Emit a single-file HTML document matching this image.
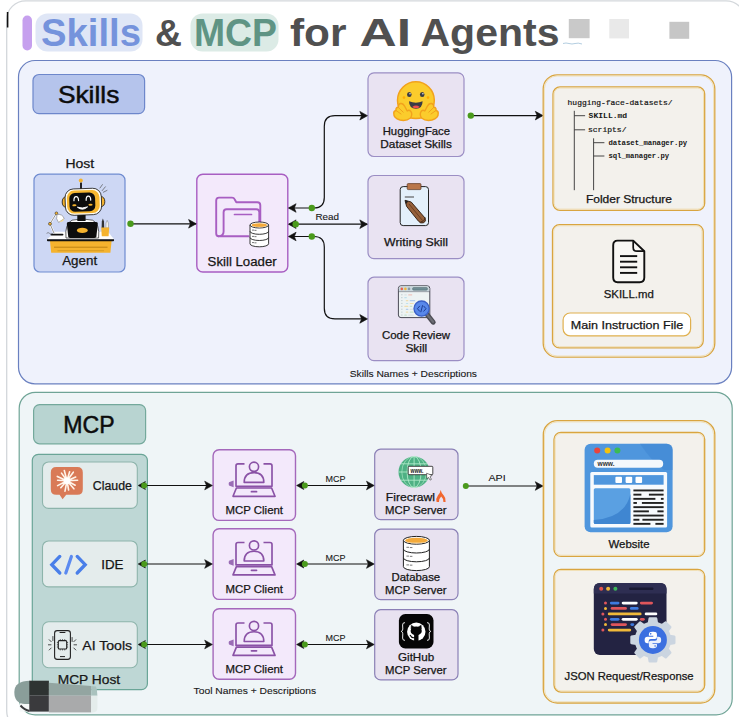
<!DOCTYPE html>
<html lang="en"><head><meta charset="utf-8"><title>Skills &amp; MCP for AI Agents</title>
<style>
html,body{margin:0;padding:0;background:#ffffff;}
body{width:739px;height:717px;overflow:hidden;position:relative;}
svg{position:absolute;left:0;top:0;display:block;}
text{font-family:"Liberation Sans",sans-serif;}
text.mono{font-family:"Liberation Mono",monospace;}
</style></head><body>
<svg width="739" height="717" viewBox="0 0 739 717">
<rect x="0" y="0" width="739" height="717" fill="#ffffff"/>
<rect x="6.7" y="0.8" width="738.3" height="729.2" rx="19" fill="#ffffff" stroke="#d3d7db" stroke-width="1.3" />
<line x1="7.6" y1="12.0" x2="7.6" y2="27.5" stroke="#111" stroke-width="1.6"/>
<rect x="22.5" y="15.5" width="9.5" height="35.0" rx="4.7" fill="#c6a0ee" stroke="none" stroke-width="0" />
<rect x="35.5" y="13.5" width="107.0" height="38.0" rx="12" fill="#dfe6f6" stroke="none" stroke-width="0" />
<rect x="190.5" y="13.5" width="88.0" height="38.0" rx="12" fill="#dcebe6" stroke="none" stroke-width="0" />
<text x="41.0" y="45.9" font-size="39" font-weight="bold" fill="#7593dc" textLength="100.0" lengthAdjust="spacingAndGlyphs">Skills</text>
<text x="155.0" y="45.9" font-size="37" font-weight="bold" fill="#505050" textLength="27.0" lengthAdjust="spacingAndGlyphs">&amp;</text>
<text x="194.0" y="45.9" font-size="39" font-weight="bold" fill="#5f9484" textLength="83.0" lengthAdjust="spacingAndGlyphs">MCP</text>
<text x="290.0" y="45.9" font-size="39" font-weight="bold" fill="#505050" textLength="56.5" lengthAdjust="spacingAndGlyphs">for</text>
<text x="359.5" y="45.9" font-size="39" font-weight="bold" fill="#505050" textLength="51.5" lengthAdjust="spacingAndGlyphs">AI</text>
<text x="420.5" y="45.9" font-size="39" font-weight="bold" fill="#505050" textLength="139.0" lengthAdjust="spacingAndGlyphs">Agents</text>
<rect x="568.8" y="19.0" width="20.8" height="19.2" rx="0" fill="#c9c9c9" stroke="none" stroke-width="0" />
<rect x="609.3" y="19.0" width="19.7" height="19.4" rx="0" fill="#e9e9e9" stroke="none" stroke-width="0" />
<rect x="669.4" y="21.8" width="19.8" height="17.0" rx="0" fill="#c6c6c6" stroke="none" stroke-width="0" />
<path d="M563 43.5 q3 -1 6 0 t6 0 t7 .5" fill="none" stroke="#9fc0d8" stroke-width="0.8"/>
<rect x="18.5" y="60.5" width="713.1" height="323.3" rx="16.5" fill="#eff2fc" stroke="#6a80c0" stroke-width="1.2" />
<rect x="33.0" y="74.5" width="111.6" height="39.1" rx="6" fill="#b5c4ec" stroke="#6d87cb" stroke-width="1.2" />
<text x="57.9" y="103.0" font-size="24.5" font-weight="normal" fill="#0c0c0c" stroke="#0c0c0c" stroke-width="0.5" textLength="61.4" lengthAdjust="spacingAndGlyphs">Skills</text>
<text x="65.4" y="167.5" font-size="13" font-weight="normal" fill="#161616" stroke="#161616" stroke-width="0.25" textLength="28.8" lengthAdjust="spacingAndGlyphs">Host</text>
<rect x="34.0" y="174.2" width="91.0" height="97.8" rx="6" fill="#cdd7f4" stroke="#6e8bd0" stroke-width="1.2" />
<text x="62.2" y="265.4" font-size="12" font-weight="normal" fill="#161616" stroke="#161616" stroke-width="0.25" textLength="34.9" lengthAdjust="spacingAndGlyphs">Agent</text>
<rect x="196.8" y="174.2" width="91.0" height="97.8" rx="6" fill="#f3e9fb" stroke="#a85ec2" stroke-width="1.4" />
<text x="207.6" y="265.5" font-size="12" font-weight="normal" fill="#161616" stroke="#161616" stroke-width="0.25" textLength="69.1" lengthAdjust="spacingAndGlyphs">Skill Loader</text>
<rect x="368.0" y="72.8" width="96.0" height="83.7" rx="6" fill="#e9e3f2" stroke="#9b8ec4" stroke-width="1.2" />
<rect x="368.0" y="175.5" width="96.0" height="83.1" rx="6" fill="#e9e3f2" stroke="#9b8ec4" stroke-width="1.2" />
<rect x="368.0" y="277.2" width="96.0" height="83.4" rx="6" fill="#e9e3f2" stroke="#9b8ec4" stroke-width="1.2" />
<text x="382.7" y="134.6" font-size="10.7" font-weight="normal" fill="#161616" stroke="#161616" stroke-width="0.25" textLength="67.4" lengthAdjust="spacingAndGlyphs">HuggingFace</text>
<text x="380.3" y="147.6" font-size="10.7" font-weight="normal" fill="#161616" stroke="#161616" stroke-width="0.25" textLength="71.5" lengthAdjust="spacingAndGlyphs">Dataset Skills</text>
<text x="384.1" y="246.2" font-size="10.7" font-weight="normal" fill="#161616" stroke="#161616" stroke-width="0.25" textLength="63.9" lengthAdjust="spacingAndGlyphs">Writing Skill</text>
<text x="382.0" y="339.2" font-size="10.7" font-weight="normal" fill="#161616" stroke="#161616" stroke-width="0.25" textLength="68.0" lengthAdjust="spacingAndGlyphs">Code Review</text>
<text x="405.4" y="352.0" font-size="10.7" font-weight="normal" fill="#161616" stroke="#161616" stroke-width="0.25" textLength="21.9" lengthAdjust="spacingAndGlyphs">Skill</text>
<text x="349.7" y="376.8" font-size="9.8" font-weight="normal" fill="#161616" stroke="#161616" stroke-width="0.1" textLength="127.3" lengthAdjust="spacingAndGlyphs">Skills Names + Descriptions</text>
<text x="315.4" y="219.7" font-size="9.8" font-weight="normal" fill="#161616" stroke="#161616" stroke-width="0.1" textLength="23.6" lengthAdjust="spacingAndGlyphs">Read</text>
<line x1="130.0" y1="223.8" x2="196.0" y2="223.8" stroke="#111" stroke-width="1.2"/>
<circle cx="130.5" cy="223.8" r="3.2" fill="#4a9a1c"/>
<polygon points="196.3,223.8 188.6,219.5 190.4,223.8 188.6,228.1" fill="#111" stroke="#111" stroke-width="0.6" stroke-linejoin="round"/>
<path d="M289 208 H314 Q324.3 208 324.3 197.5 V126.2 Q324.3 115.7 335 115.7 H366" fill="none" stroke="#111" stroke-width="1.2"/>
<polygon points="288.4,208.0 296.1,203.7 294.3,208.0 296.1,212.3" fill="#111" stroke="#111" stroke-width="0.6" stroke-linejoin="round"/>
<polygon points="367.5,115.7 359.8,111.4 361.6,115.7 359.8,120.0" fill="#111" stroke="#111" stroke-width="0.6" stroke-linejoin="round"/>
<circle cx="311.8" cy="208.0" r="3.2" fill="#4a9a1c"/>
<line x1="289.0" y1="224.2" x2="367.0" y2="224.2" stroke="#111" stroke-width="1.2"/>
<polygon points="288.4,224.2 296.1,219.9 294.3,224.2 296.1,228.5" fill="#111" stroke="#111" stroke-width="0.6" stroke-linejoin="round"/>
<polygon points="367.5,224.2 359.8,219.9 361.6,224.2 359.8,228.5" fill="#111" stroke="#111" stroke-width="0.6" stroke-linejoin="round"/>
<circle cx="295.7" cy="224.2" r="3.2" fill="#4a9a1c"/>
<path d="M289 236.5 H314 Q324.3 236.5 324.3 247 V308.2 Q324.3 318.9 335 318.9 H366" fill="none" stroke="#111" stroke-width="1.2"/>
<polygon points="288.4,236.5 296.1,232.2 294.3,236.5 296.1,240.8" fill="#111" stroke="#111" stroke-width="0.6" stroke-linejoin="round"/>
<polygon points="367.5,318.9 359.8,314.6 361.6,318.9 359.8,323.2" fill="#111" stroke="#111" stroke-width="0.6" stroke-linejoin="round"/>
<circle cx="311.8" cy="236.5" r="3.2" fill="#4a9a1c"/>
<line x1="470.0" y1="115.6" x2="542.0" y2="115.6" stroke="#111" stroke-width="1.2"/>
<circle cx="470.8" cy="115.6" r="3.2" fill="#4a9a1c"/>
<polygon points="543.0,115.6 535.3,111.3 537.1,115.6 535.3,119.9" fill="#111" stroke="#111" stroke-width="0.6" stroke-linejoin="round"/>
<rect x="543.2" y="74.8" width="171.6" height="282.4" rx="14" fill="none" stroke="#d9a540" stroke-width="1.3" />
<rect x="553.0" y="86.9" width="151.7" height="123.4" rx="7" fill="#f3f1ec" stroke="#d9a540" stroke-width="1.3" />
<rect x="552.5" y="224.6" width="150.7" height="123.3" rx="7" fill="#f3f1ec" stroke="#d9a540" stroke-width="1.3" />
<text x="567.6" y="104.8" font-size="7.7" font-weight="normal" fill="#151515" stroke="#151515" stroke-width="0.2" textLength="104.9" lengthAdjust="spacingAndGlyphs" class="mono">hugging-face-datasets/</text>
<text x="588.6" y="118.2" font-size="7.7" font-weight="bold" fill="#151515" textLength="38.6" lengthAdjust="spacingAndGlyphs" class="mono">SKILL.md</text>
<text x="588.0" y="132.3" font-size="7.7" font-weight="normal" fill="#151515" stroke="#151515" stroke-width="0.2" textLength="38.5" lengthAdjust="spacingAndGlyphs" class="mono">scripts/</text>
<text x="608.4" y="145.0" font-size="7.2" font-weight="bold" fill="#151515" textLength="78.8" lengthAdjust="spacingAndGlyphs" class="mono">dataset_manager.py</text>
<text x="608.4" y="158.3" font-size="7.2" font-weight="bold" fill="#151515" textLength="60.8" lengthAdjust="spacingAndGlyphs" class="mono">sql_manager.py</text>
<line x1="574.3" y1="110.8" x2="574.3" y2="190.2" stroke="#333" stroke-width="0.9"/>
<line x1="574.3" y1="115.7" x2="585.1" y2="115.7" stroke="#333" stroke-width="0.9"/>
<line x1="574.3" y1="129.8" x2="585.1" y2="129.8" stroke="#333" stroke-width="0.9"/>
<line x1="593.6" y1="138.3" x2="593.6" y2="190.2" stroke="#333" stroke-width="0.9"/>
<line x1="593.6" y1="142.7" x2="604.4" y2="142.7" stroke="#333" stroke-width="0.9"/>
<line x1="593.6" y1="156.0" x2="604.4" y2="156.0" stroke="#333" stroke-width="0.9"/>
<text x="585.9" y="202.9" font-size="10.7" font-weight="normal" fill="#161616" stroke="#161616" stroke-width="0.25" textLength="86.1" lengthAdjust="spacingAndGlyphs">Folder Structure</text>
<text x="603.7" y="297.8" font-size="10.8" font-weight="normal" fill="#161616" stroke="#161616" stroke-width="0.25" textLength="50.1" lengthAdjust="spacingAndGlyphs">SKILL.md</text>
<rect x="563.1" y="313.0" width="127.5" height="22.8" rx="7" fill="#ffffff" stroke="#e0b04e" stroke-width="1.2" />
<text x="570.8" y="329.1" font-size="11.4" font-weight="normal" fill="#161616" stroke="#161616" stroke-width="0.25" textLength="112.5" lengthAdjust="spacingAndGlyphs">Main Instruction File</text>
<rect x="19.2" y="392.3" width="713.0" height="322.5" rx="16" fill="#eff5f7" stroke="#6fa496" stroke-width="1.2" />
<rect x="33.6" y="404.6" width="112.0" height="39.2" rx="6" fill="#b8d4d1" stroke="#74a99c" stroke-width="1.2" />
<text x="63.3" y="432.8" font-size="24.5" font-weight="normal" fill="#0c0c0c" stroke="#0c0c0c" stroke-width="0.5" textLength="51.3" lengthAdjust="spacingAndGlyphs">MCP</text>
<rect x="32.3" y="454.3" width="115.1" height="235.4" rx="6" fill="#bed7d5" stroke="#6aa597" stroke-width="1.2" />
<rect x="42.5" y="462.0" width="94.8" height="46.4" rx="6" fill="#e4ecec" stroke="#8db4ab" stroke-width="1.1" />
<rect x="42.5" y="541.0" width="94.8" height="45.9" rx="6" fill="#e4ecec" stroke="#8db4ab" stroke-width="1.1" />
<rect x="42.5" y="621.8" width="94.8" height="45.9" rx="6" fill="#e4ecec" stroke="#8db4ab" stroke-width="1.1" />
<text x="92.8" y="490.3" font-size="12" font-weight="normal" fill="#161616" stroke="#161616" stroke-width="0.25" textLength="39.2" lengthAdjust="spacingAndGlyphs">Claude</text>
<text x="101.3" y="569.1" font-size="12" font-weight="normal" fill="#161616" stroke="#161616" stroke-width="0.25" textLength="22.2" lengthAdjust="spacingAndGlyphs">IDE</text>
<text x="82.3" y="650.0" font-size="12" font-weight="normal" fill="#161616" stroke="#161616" stroke-width="0.25" textLength="49.8" lengthAdjust="spacingAndGlyphs">AI Tools</text>
<text x="57.7" y="683.9" font-size="12.5" font-weight="normal" fill="#161616" stroke="#161616" stroke-width="0.25" textLength="62.4" lengthAdjust="spacingAndGlyphs">MCP Host</text>
<rect x="213.1" y="449.7" width="82.4" height="70.7" rx="6" fill="#f3e9fb" stroke="#a468bb" stroke-width="1.4" />
<text x="225.5" y="513.5" font-size="10.8" font-weight="normal" fill="#161616" stroke="#161616" stroke-width="0.25" textLength="57.5" lengthAdjust="spacingAndGlyphs">MCP Client</text>
<rect x="213.1" y="528.7" width="82.4" height="70.7" rx="6" fill="#f3e9fb" stroke="#a468bb" stroke-width="1.4" />
<text x="225.5" y="592.5" font-size="10.8" font-weight="normal" fill="#161616" stroke="#161616" stroke-width="0.25" textLength="57.5" lengthAdjust="spacingAndGlyphs">MCP Client</text>
<rect x="213.1" y="608.8" width="82.4" height="70.4" rx="6" fill="#f3e9fb" stroke="#a468bb" stroke-width="1.4" />
<text x="225.5" y="672.6" font-size="10.8" font-weight="normal" fill="#161616" stroke="#161616" stroke-width="0.25" textLength="57.5" lengthAdjust="spacingAndGlyphs">MCP Client</text>
<rect x="374.7" y="449.2" width="83.3" height="70.4" rx="6" fill="#e8e2f0" stroke="#8b80b6" stroke-width="1.2" />
<text x="385.1" y="513.9" font-size="10.7" font-weight="normal" fill="#161616" stroke="#161616" stroke-width="0.25" textLength="61.5" lengthAdjust="spacingAndGlyphs">MCP Server</text>
<rect x="374.7" y="529.2" width="83.3" height="70.4" rx="6" fill="#e8e2f0" stroke="#8b80b6" stroke-width="1.2" />
<text x="385.1" y="593.9" font-size="10.7" font-weight="normal" fill="#161616" stroke="#161616" stroke-width="0.25" textLength="61.5" lengthAdjust="spacingAndGlyphs">MCP Server</text>
<rect x="374.7" y="609.7" width="83.3" height="70.2" rx="6" fill="#e8e2f0" stroke="#8b80b6" stroke-width="1.2" />
<text x="385.1" y="674.4" font-size="10.7" font-weight="normal" fill="#161616" stroke="#161616" stroke-width="0.25" textLength="61.5" lengthAdjust="spacingAndGlyphs">MCP Server</text>
<text x="385.8" y="501.0" font-size="10.7" font-weight="normal" fill="#161616" stroke="#161616" stroke-width="0.25" textLength="49.2" lengthAdjust="spacingAndGlyphs">Firecrawl</text>
<text x="391.5" y="581.0" font-size="10.7" font-weight="normal" fill="#161616" stroke="#161616" stroke-width="0.25" textLength="48.7" lengthAdjust="spacingAndGlyphs">Database</text>
<text x="398.0" y="661.3" font-size="10.7" font-weight="normal" fill="#161616" stroke="#161616" stroke-width="0.25" textLength="36.2" lengthAdjust="spacingAndGlyphs">GitHub</text>
<line x1="140.0" y1="485.5" x2="211.0" y2="485.5" stroke="#111" stroke-width="1.2"/>
<polygon points="138.2,485.5 145.4,481.5 143.7,485.5 145.4,489.5" fill="#111" stroke="#111" stroke-width="0.6" stroke-linejoin="round"/>
<circle cx="144.2" cy="485.5" r="3" fill="#4a9a1c"/>
<polygon points="212.4,485.5 204.7,481.2 206.5,485.5 204.7,489.8" fill="#111" stroke="#111" stroke-width="0.6" stroke-linejoin="round"/>
<line x1="298.0" y1="485.5" x2="373.0" y2="485.5" stroke="#111" stroke-width="1.2"/>
<polygon points="296.6,485.5 303.8,481.5 302.1,485.5 303.8,489.5" fill="#111" stroke="#111" stroke-width="0.6" stroke-linejoin="round"/>
<circle cx="304.9" cy="485.5" r="3" fill="#4a9a1c"/>
<polygon points="374.2,485.5 366.5,481.2 368.3,485.5 366.5,489.8" fill="#111" stroke="#111" stroke-width="0.6" stroke-linejoin="round"/>
<text x="325.5" y="482.1" font-size="9.6" font-weight="normal" fill="#161616" stroke="#161616" stroke-width="0.1" textLength="20.0" lengthAdjust="spacingAndGlyphs">MCP</text>
<line x1="140.0" y1="564.0" x2="211.0" y2="564.0" stroke="#111" stroke-width="1.2"/>
<polygon points="138.2,564.0 145.4,560.0 143.7,564.0 145.4,568.0" fill="#111" stroke="#111" stroke-width="0.6" stroke-linejoin="round"/>
<circle cx="144.2" cy="564.0" r="3" fill="#4a9a1c"/>
<polygon points="212.4,564.0 204.7,559.7 206.5,564.0 204.7,568.3" fill="#111" stroke="#111" stroke-width="0.6" stroke-linejoin="round"/>
<line x1="298.0" y1="564.0" x2="373.0" y2="564.0" stroke="#111" stroke-width="1.2"/>
<polygon points="296.6,564.0 303.8,560.0 302.1,564.0 303.8,568.0" fill="#111" stroke="#111" stroke-width="0.6" stroke-linejoin="round"/>
<circle cx="304.9" cy="564.0" r="3" fill="#4a9a1c"/>
<polygon points="374.2,564.0 366.5,559.7 368.3,564.0 366.5,568.3" fill="#111" stroke="#111" stroke-width="0.6" stroke-linejoin="round"/>
<text x="325.5" y="560.6" font-size="9.6" font-weight="normal" fill="#161616" stroke="#161616" stroke-width="0.1" textLength="20.0" lengthAdjust="spacingAndGlyphs">MCP</text>
<line x1="140.0" y1="644.5" x2="211.0" y2="644.5" stroke="#111" stroke-width="1.2"/>
<polygon points="138.2,644.5 145.4,640.5 143.7,644.5 145.4,648.5" fill="#111" stroke="#111" stroke-width="0.6" stroke-linejoin="round"/>
<circle cx="144.2" cy="644.5" r="3" fill="#4a9a1c"/>
<polygon points="212.4,644.5 204.7,640.2 206.5,644.5 204.7,648.8" fill="#111" stroke="#111" stroke-width="0.6" stroke-linejoin="round"/>
<line x1="298.0" y1="644.5" x2="373.0" y2="644.5" stroke="#111" stroke-width="1.2"/>
<polygon points="296.6,644.5 303.8,640.5 302.1,644.5 303.8,648.5" fill="#111" stroke="#111" stroke-width="0.6" stroke-linejoin="round"/>
<circle cx="304.9" cy="644.5" r="3" fill="#4a9a1c"/>
<polygon points="374.2,644.5 366.5,640.2 368.3,644.5 366.5,648.8" fill="#111" stroke="#111" stroke-width="0.6" stroke-linejoin="round"/>
<text x="325.5" y="641.1" font-size="9.6" font-weight="normal" fill="#161616" stroke="#161616" stroke-width="0.1" textLength="20.0" lengthAdjust="spacingAndGlyphs">MCP</text>
<line x1="465.0" y1="486.0" x2="542.0" y2="486.0" stroke="#111" stroke-width="1.2"/>
<circle cx="465.8" cy="486.0" r="3" fill="#4a9a1c"/>
<polygon points="543.0,486.0 535.3,481.7 537.1,486.0 535.3,490.3" fill="#111" stroke="#111" stroke-width="0.6" stroke-linejoin="round"/>
<text x="488.5" y="480.6" font-size="9.6" font-weight="normal" fill="#161616" stroke="#161616" stroke-width="0.1" textLength="17.2" lengthAdjust="spacingAndGlyphs">API</text>
<text x="193.6" y="694.1" font-size="9.8" font-weight="normal" fill="#161616" stroke="#161616" stroke-width="0.1" textLength="122.5" lengthAdjust="spacingAndGlyphs">Tool Names + Descriptions</text>
<rect x="543.3" y="420.7" width="171.5" height="282.3" rx="14" fill="none" stroke="#d9a540" stroke-width="1.3" />
<rect x="554.0" y="432.3" width="150.7" height="124.1" rx="7" fill="#f3f1ec" stroke="#d9a540" stroke-width="1.3" />
<rect x="554.0" y="569.3" width="150.7" height="122.8" rx="7" fill="#f3f1ec" stroke="#d9a540" stroke-width="1.3" />
<text x="608.5" y="547.6" font-size="10.5" font-weight="normal" fill="#161616" stroke="#161616" stroke-width="0.25" textLength="41.1" lengthAdjust="spacingAndGlyphs">Website</text>
<text x="564.5" y="680.3" font-size="11.2" font-weight="normal" fill="#161616" stroke="#161616" stroke-width="0.25" textLength="129.1" lengthAdjust="spacingAndGlyphs">JSON Request/Response</text>
<rect x="544.4" y="76.0" width="169.2" height="280.0" rx="12.8" fill="none" stroke="#f1deb0" stroke-width="0.9" />
<rect x="554.2" y="88.1" width="149.3" height="121.0" rx="5.8" fill="none" stroke="#f1deb0" stroke-width="0.9" />
<rect x="553.7" y="225.8" width="148.3" height="120.9" rx="5.8" fill="none" stroke="#f1deb0" stroke-width="0.9" />
<rect x="544.5" y="421.9" width="169.1" height="279.9" rx="12.8" fill="none" stroke="#f1deb0" stroke-width="0.9" />
<rect x="555.2" y="433.5" width="148.3" height="121.7" rx="5.8" fill="none" stroke="#f1deb0" stroke-width="0.9" />
<rect x="555.2" y="570.5" width="148.3" height="120.4" rx="5.8" fill="none" stroke="#f1deb0" stroke-width="0.9" />
<g>
<path d="M50 241 H111.6 L110.4 252.7 H51.2Z" fill="#f5b32e"/>
<path d="M54 247.2 H107.5" stroke="#b87d10" stroke-width="0.9"/><path d="M57.5 250.7 H104" stroke="#d59a22" stroke-width="0.9"/>
<path d="M55.5 231.8 H108 L114 239.3 H47Z" fill="#fdfdfd"/>
<path d="M47 239.3 H114 V240.4 Q114 241.2 113.2 241.2 H47.8 Q47 241.2 47 240.4Z" fill="#111"/>
<path d="M51.5 234.6 H62.5" stroke="#111" stroke-width="1.9" stroke-linecap="round"/>
<path d="M46.6 233.4 q1.5 -1.6 3 0 t3 0" fill="none" stroke="#555" stroke-width="0.6"/>
<path d="M54 233.2 L50 223.8 L56.4 213.4" fill="none" stroke="#fff" stroke-width="2" stroke-linejoin="round"/>
<path d="M54 233.2 L50 223.8 L56.4 213.4" fill="none" stroke="#555" stroke-width="0.7" stroke-linejoin="round" opacity="0.9"/>
<circle cx="50" cy="223.8" r="1.5" fill="#f5b32e" stroke="#333" stroke-width="0.6"/><circle cx="56.4" cy="213.3" r="1.4" fill="#f5b32e" stroke="#333" stroke-width="0.6"/>
<path d="M57 214.6 Q62.5 213.6 64.2 218.6 L58.6 222.4 Q55.5 219 57 214.6Z" fill="#fff" stroke="#666" stroke-width="0.5"/>
<path d="M59.2 222 L64 218.8 Q63.6 222.4 59.2 222Z" fill="#f6dc8f"/>
<path d="M66 238 Q64.5 224 72 220.2 Q82 217.6 92.6 220.2 Q100 224 98.6 238Z" fill="#fff" stroke="#222" stroke-width="0.7"/>
<path d="M77.3 214 H85.6 V221 H77.3Z" fill="#111"/>
<path d="M68.4 222 H96.2 Q98 222 97.8 223.8 L96.4 236.2 Q96.2 237.9 94.4 237.9 H70.2 Q68.4 237.9 68.2 236.2 L66.8 223.8 Q66.6 222 68.4 222Z" fill="#0d0d0d"/>
<ellipse cx="82.3" cy="230.4" rx="5.4" ry="2.6" fill="#f5b32e"/>
<path d="M101.6 228 L101.8 221.4 L102.9 218.4 L104 221.4 L104.2 228Z" fill="#333"/><path d="M105.9 228 L106 223 L107.2 220.4 L108.4 223 L108.5 228Z" fill="#f4f4f4" stroke="#666" stroke-width="0.4"/>
<path d="M101.2 227.6 H109.2 L108.6 236.2 H101.8Z" fill="#f5b32e"/>
<path d="M81 182.5 V189.5" stroke="#111" stroke-width="1.8"/><circle cx="80.8" cy="180.4" r="2" fill="#f5b32e"/>
<path d="M66 196.8 Q62.2 197.2 62.2 202 Q62.2 206.8 66 207.2Z" fill="#f5b32e" stroke="#111" stroke-width="0.8"/>
<path d="M100.6 196.4 Q104.8 196.8 104.8 201.6 Q104.8 206.4 100.6 206.8Z" fill="#f5b32e" stroke="#111" stroke-width="0.8"/>
<g transform="rotate(-2 83.3 201.8)">
<rect x="65.2" y="188.6" width="36.3" height="26.4" rx="8.5" fill="#fffdf4" stroke="#111" stroke-width="0.8"/>
<rect x="67" y="190.3" width="32.6" height="23" rx="7.2" fill="#f7b731"/>
<rect x="69.4" y="192.7" width="25.8" height="18.8" rx="5.6" fill="#0d0d0d"/>
<path d="M74 200.4 Q74 196.4 76.3 196.4 Q78.6 196.4 78.6 200.4" fill="none" stroke="#fff" stroke-width="1.2" stroke-linecap="round"/>
<path d="M86.2 200.4 Q86.2 196.4 88.5 196.4 Q90.8 196.4 90.8 200.4" fill="none" stroke="#fff" stroke-width="1.2" stroke-linecap="round"/>
<path d="M77.2 207 Q82.3 211.4 87.4 207 Q82.3 208.8 77.2 207Z" fill="#fff" stroke="#fff" stroke-width="0.9" stroke-linejoin="round"/>
<ellipse cx="74.3" cy="205" rx="2.1" ry="1" fill="#f5b32e"/><ellipse cx="90.4" cy="205" rx="2.1" ry="1" fill="#f5b32e"/>
</g>
<path d="M100 188 L102.4 184.6 M102.2 190.6 L105.4 186.8 M103.4 192.2 L107 190.4" stroke="#555" stroke-width="0.7" stroke-linecap="round"/>
</g>
<path d="M218.6 236.2 Q216.2 236.2 216.2 233.5 V200.5 Q216.2 197.6 219 197.6 H232 Q233.8 197.6 234.6 199.2 L236.3 202.3 H257.3 Q260.3 202.3 260.3 205.3 V222" fill="none" stroke="#a85ec2" stroke-width="1.9" stroke-linecap="round" stroke-linejoin="round"/>
<path d="M218.6 236.2 Q223.6 236 223.6 231.5 V212.3 Q223.6 209.3 226.6 209.3 H256.3 Q259.3 209.3 259.3 212.3 V221.5 M218.6 236.2 H248.5" fill="none" stroke="#a85ec2" stroke-width="1.9" stroke-linecap="round" stroke-linejoin="round"/>
<path d="M234.5 214.5 H251.5" stroke="#a85ec2" stroke-width="1.7" stroke-linecap="round"/>
<path d="M250.0 225.0 V243.8 A9.3 3.0 0 0 0 268.6 243.8 V225.0Z" fill="#ffffff" stroke="#222" stroke-width="0.9"/>
<path d="M250.0 231.3 A9.3 3.0 0 0 0 268.6 231.3" fill="none" stroke="#222" stroke-width="0.9"/>
<path d="M250.0 237.5 A9.3 3.0 0 0 0 268.6 237.5" fill="none" stroke="#222" stroke-width="0.9"/>
<path d="M252.4 230.1 h1.3 m1.1 0.25 h1.3" stroke="#555" stroke-width="0.8" stroke-linecap="round"/>
<path d="M252.4 236.4 h1.3 m1.1 0.25 h1.3" stroke="#555" stroke-width="0.8" stroke-linecap="round"/>
<path d="M252.4 242.6 h1.3 m1.1 0.25 h1.3" stroke="#555" stroke-width="0.8" stroke-linecap="round"/>
<ellipse cx="259.3" cy="225.0" rx="9.3" ry="3.0" fill="#ffffff" stroke="#222" stroke-width="0.9"/>
<ellipse cx="259.3" cy="225.2" rx="7.7" ry="1.9" fill="#f3a93a"/>
<path d="M252.0 225.9 A7.7 1.9 0 0 0 266.6 225.9 A7.7 1.4 0 0 1 252.0 225.9" fill="#fbd9a0" opacity="0.9"/>
<g>
<circle cx="415.9" cy="100.2" r="18.4" fill="#fbcc2c" stroke="#f2a21c" stroke-width="1.5"/>
<ellipse cx="409.3" cy="94.6" rx="2.3" ry="2.5" fill="#3a3b45"/><ellipse cx="422.2" cy="94.6" rx="2.3" ry="2.5" fill="#3a3b45"/>
<circle cx="410" cy="93.8" r="0.7" fill="#fff"/><circle cx="422.9" cy="93.8" r="0.7" fill="#fff"/>
<circle cx="404" cy="97.6" r="1.3" fill="#ffad03"/><circle cx="428" cy="97.6" r="1.3" fill="#ffad03"/>
<path d="M409 101.3 Q416 104 422.6 101.3 Q422.6 108.6 416 108.8 Q409 108.6 409 101.3Z" fill="#3a3b45"/>
<path d="M412.2 107 Q416 104.2 419.8 107 Q416 109.6 412.2 107Z" fill="#ef4e4e"/>
<path d="M400.5 103.5 Q403 103 404.8 106.5 L407.2 111 Q409 109.5 410.5 111 Q413 114 410.5 118 Q406 121.5 400 120 Q393.5 118 393.8 113.5 Q393.5 111 396 110.5 Q395.5 107.5 398.2 107.3 Q398 104 400.5 103.5Z" fill="#fbcc2c" stroke="#f2a21c" stroke-width="1.4" stroke-linejoin="round"/>
<path d="M431.5 103.5 Q429 103 427.2 106.5 L424.8 111 Q423 109.5 421.5 111 Q419 114 421.5 118 Q426 121.5 432 120 Q438.5 118 438.2 113.5 Q438.5 111 436 110.5 Q436.5 107.5 433.8 107.3 Q434 104 431.5 103.5Z" fill="#fbcc2c" stroke="#f2a21c" stroke-width="1.4" stroke-linejoin="round"/>
<path d="M396.2 110.6 L401 114 M398.4 107.5 L403.2 112.2" stroke="#f2a21c" stroke-width="1" stroke-linecap="round"/>
<path d="M435.8 110.6 L431 114 M433.6 107.5 L428.8 112.2" stroke="#f2a21c" stroke-width="1" stroke-linecap="round"/>
</g>
<rect x="400.2" y="186.6" width="28.3" height="39" rx="3" fill="#e4f0fb" stroke="#222" stroke-width="1"/>
<rect x="407.2" y="183.6" width="13.8" height="6" rx="1" fill="#b9764a" stroke="#5a3520" stroke-width="0.7"/>
<path d="M404.8 197 H414" stroke="#555" stroke-width="1.1"/>
<path d="M405 200.3 L411.2 202 L425 218 Q426.6 221.2 423.6 222.8 Q420.4 223.8 418.5 221.2 L406.6 206.4Z" fill="#96603a" stroke="#2e1c10" stroke-width="0.9" stroke-linejoin="round"/>
<path d="M405 200.3 L408.3 201.2 L406 204Z" fill="#222"/>
<path d="M409 204 L422.5 220.5" stroke="#6d3f22" stroke-width="1"/>
<path d="M420.2 222.2 Q424.8 221.6 425.4 217.6" fill="none" stroke="#3a2315" stroke-width="0.8"/>
<rect x="398.4" y="285.8" width="31.4" height="31.8" rx="2.6" fill="#edf3f3" stroke="#4a4a55" stroke-width="1"/>
<path d="M398.4 291.6 H429.8" stroke="#4a4a55" stroke-width="0.8"/>
<path d="M398.9 288.4 Q398.9 286.3 401 286.3 H427.2 Q429.3 286.3 429.3 288.4 V291.4 H398.9Z" fill="#c9d7dd"/>
<circle cx="401.8" cy="288.9" r="1.3" fill="#e8604c"/><circle cx="405.4" cy="288.9" r="1.3" fill="#f1b63b"/><circle cx="409" cy="288.9" r="1.3" fill="#8a9aa3"/>
<rect x="412.5" y="287.5" width="15" height="2.7" rx="1.3" fill="#6f8e94" stroke="#3f555a" stroke-width="0.4"/>
<rect x="401" y="294.2" width="1.6" height="1.1" fill="#c9d4d8"/>
<rect x="404.3" y="294.2" width="2.5" height="1.2" rx="0.5" fill="#c9d3d8" opacity="0.5"/>
<rect x="408.2" y="294.2" width="4" height="1.2" rx="0.5" fill="#f29a8a" opacity="0.5"/>
<rect x="401" y="297.1" width="1.6" height="1.1" fill="#c9d4d8"/>
<rect x="404.3" y="297.1" width="2.5" height="1.2" rx="0.5" fill="#8fd0e8" opacity="0.5"/>
<rect x="401" y="300.0" width="1.6" height="1.1" fill="#c9d4d8"/>
<rect x="405.8" y="300.0" width="2.5" height="1.2" rx="0.5" fill="#f3c76b" opacity="0.5"/>
<rect x="409.7" y="300.0" width="5.5" height="1.2" rx="0.5" fill="#7aa7e8" opacity="0.5"/>
<rect x="401" y="302.9" width="1.6" height="1.1" fill="#c9d4d8"/>
<rect x="405.8" y="302.9" width="2.5" height="1.2" rx="0.5" fill="#8fd0e8" opacity="0.5"/>
<rect x="409.7" y="302.9" width="4" height="1.2" rx="0.5" fill="#f3c76b" opacity="0.5"/>
<rect x="401" y="305.8" width="1.6" height="1.1" fill="#c9d4d8"/>
<rect x="404.3" y="305.8" width="4" height="1.2" rx="0.5" fill="#f3c76b" opacity="0.5"/>
<rect x="409.7" y="305.8" width="2.5" height="1.2" rx="0.5" fill="#9bd6a8" opacity="0.5"/>
<rect x="401" y="308.7" width="1.6" height="1.1" fill="#c9d4d8"/>
<rect x="405.8" y="308.7" width="2.5" height="1.2" rx="0.5" fill="#7aa7e8" opacity="0.5"/>
<rect x="409.7" y="308.7" width="4" height="1.2" rx="0.5" fill="#c9d3d8" opacity="0.5"/>
<rect x="401" y="311.6" width="1.6" height="1.1" fill="#c9d4d8"/>
<rect x="405.8" y="311.6" width="2.5" height="1.2" rx="0.5" fill="#f3c76b" opacity="0.5"/>
<rect x="409.7" y="311.6" width="4" height="1.2" rx="0.5" fill="#9bd6a8" opacity="0.5"/>
<rect x="401" y="314.5" width="1.6" height="1.1" fill="#c9d4d8"/>
<rect x="404.3" y="314.5" width="2.5" height="1.2" rx="0.5" fill="#9bd6a8" opacity="0.5"/>
<rect x="408.2" y="314.5" width="5.5" height="1.2" rx="0.5" fill="#c9d3d8" opacity="0.5"/>
<path d="M426.5 313.8 L433.2 322.2" stroke="#4d4d55" stroke-width="5" stroke-linecap="round"/>
<path d="M427 314.4 L433 321.8" stroke="#6d6e75" stroke-width="2.2" stroke-linecap="round"/>
<circle cx="421.6" cy="308.6" r="7.6" fill="#5888ea" stroke="#3a5fc6" stroke-width="1.3"/>
<path d="M419.6 306.2 L417.4 308.7 L419.6 311.2 M423.8 306.2 L426 308.7 L423.8 311.2 M422.5 305.6 L420.9 311.8" fill="none" stroke="#1f3f95" stroke-width="1" stroke-linecap="round" stroke-linejoin="round"/>
<path d="M617.6 240.6 H633.2 L644.3 251.2 V277.6 Q644.3 282.2 639.7 282.2 H617.6 Q613.2 282.2 613.2 277.6 V245.2 Q613.2 240.6 617.6 240.6Z" fill="#f8f7f4" stroke="#111" stroke-width="1.9" stroke-linejoin="round"/>
<path d="M633.2 240.6 V247.4 Q633.2 251.2 637 251.2 H644.3" fill="none" stroke="#111" stroke-width="1.7" stroke-linejoin="round"/>
<path d="M620 256.1 H637.2" stroke="#111" stroke-width="1.9"/>
<path d="M620 261.7 H637.2" stroke="#111" stroke-width="1.9"/>
<path d="M620 267.3 H637.2" stroke="#111" stroke-width="1.9"/>
<path d="M620 272.9 H637.2" stroke="#111" stroke-width="1.9"/>
<path d="M56.3 467 H77.3 Q82.8 467 82.8 472.5 V489.3 Q82.8 494.8 77.3 494.8 H66.2 L62.6 499.2 L59.6 494.8 H56.3 Q50.8 494.8 50.8 489.3 V472.5 Q50.8 467 56.3 467Z" fill="#d97a57"/>
<path d="M67.0 480.7 L77.6 480.3 M67.0 480.7 L75.2 485.2 M67.0 480.7 L73.9 488.8 M67.0 480.7 L68.6 490.0 M67.0 480.7 L65.0 491.1 M67.0 480.7 L60.8 487.7 M67.0 480.7 L57.6 485.6 M67.0 480.7 L57.6 480.2 M67.0 480.7 L57.3 476.4 M67.0 480.7 L61.5 473.1 M67.0 480.7 L64.3 470.5 M67.0 480.7 L69.6 471.7 M67.0 480.7 L73.3 472.2 M67.0 480.7 L75.7 477.1 " stroke="#fff4ea" stroke-width="1.6" stroke-linecap="round"/>
<circle cx="67.0" cy="480.7" r="3.3" fill="#fff"/>
<path d="M59.8 556.4 L51.8 564.7 L59.8 573 M77.2 556.4 L85.2 564.7 L77.2 573" fill="none" stroke="#4a7fe9" stroke-width="3.3" stroke-linecap="round" stroke-linejoin="miter"/>
<path d="M71.4 556.4 L65.8 573" stroke="#5b8af0" stroke-width="3.2" stroke-linecap="round"/>
<rect x="54.6" y="630.6" width="15.8" height="28.8" rx="2.6" fill="none" stroke="#222" stroke-width="1.1"/>
<path d="M60 632.5 H65 M60.4 656.6 H64.6" stroke="#222" stroke-width="1" stroke-linecap="round"/>
<rect x="58.3" y="640.6" width="8.4" height="8.4" rx="1" fill="none" stroke="#222" stroke-width="1.1"/>
<path d="M60.3 639.2 v1.2 M60.3 649.2 v1.2 M56.9 642.6 h1.2 M66.9 642.6 h1.2 M62.5 639.2 v1.2 M62.5 649.2 v1.2 M56.9 644.8 h1.2 M66.9 644.8 h1.2 M64.7 639.2 v1.2 M64.7 649.2 v1.2 M56.9 647.0 h1.2 M66.9 647.0 h1.2 " stroke="#222" stroke-width="0.7"/>
<path d="M52.9 636.5 v4 M72.1 637.5 v4 M49.2 639.7 l2 2 M48.4 644.8 h2.6 M49.2 650 l2 -2 M75.8 639.7 l-2 2 M76.6 644.8 h-2.6 M75.8 650 l-2 -2" stroke="#222" stroke-width="0.8" stroke-linecap="round"/>
<g transform="translate(0 0)">
<path d="M244.5 463.9 H238 Q236 463.9 236 465.9 V486.3 H272 V465.9 Q272 463.9 270 463.9 H263.5" fill="none" stroke="#8a52a6" stroke-width="1.65" stroke-linejoin="round"/>
<path d="M236.4 488 H271.6 L275 496.3 H233Z" fill="none" stroke="#8a52a6" stroke-width="1.65" stroke-linejoin="round"/>
<path d="M251.5 491.7 H256.5" stroke="#8a52a6" stroke-width="1.8" stroke-linecap="round"/>
<circle cx="254" cy="466.8" r="4.6" fill="#f3e9fb" stroke="#8a52a6" stroke-width="1.65"/>
<path d="M244.2 482.4 Q244.2 472.6 254 472.6 Q263.8 472.6 263.8 482.4Z" fill="#f3e9fb" stroke="#8a52a6" stroke-width="1.65" stroke-linejoin="round"/>
<path d="M233.6 480.4 L229 482.2 Q228.3 483.8 229 485.4 L233.6 487.2Z" fill="#9a6db5"/>
</g>
<g transform="translate(0 78.6)">
<path d="M244.5 463.9 H238 Q236 463.9 236 465.9 V486.3 H272 V465.9 Q272 463.9 270 463.9 H263.5" fill="none" stroke="#8a52a6" stroke-width="1.65" stroke-linejoin="round"/>
<path d="M236.4 488 H271.6 L275 496.3 H233Z" fill="none" stroke="#8a52a6" stroke-width="1.65" stroke-linejoin="round"/>
<path d="M251.5 491.7 H256.5" stroke="#8a52a6" stroke-width="1.8" stroke-linecap="round"/>
<circle cx="254" cy="466.8" r="4.6" fill="#f3e9fb" stroke="#8a52a6" stroke-width="1.65"/>
<path d="M244.2 482.4 Q244.2 472.6 254 472.6 Q263.8 472.6 263.8 482.4Z" fill="#f3e9fb" stroke="#8a52a6" stroke-width="1.65" stroke-linejoin="round"/>
<path d="M233.6 480.4 L229 482.2 Q228.3 483.8 229 485.4 L233.6 487.2Z" fill="#9a6db5"/>
</g>
<g transform="translate(0 159.1)">
<path d="M244.5 463.9 H238 Q236 463.9 236 465.9 V486.3 H272 V465.9 Q272 463.9 270 463.9 H263.5" fill="none" stroke="#8a52a6" stroke-width="1.65" stroke-linejoin="round"/>
<path d="M236.4 488 H271.6 L275 496.3 H233Z" fill="none" stroke="#8a52a6" stroke-width="1.65" stroke-linejoin="round"/>
<path d="M251.5 491.7 H256.5" stroke="#8a52a6" stroke-width="1.8" stroke-linecap="round"/>
<circle cx="254" cy="466.8" r="4.6" fill="#f3e9fb" stroke="#8a52a6" stroke-width="1.65"/>
<path d="M244.2 482.4 Q244.2 472.6 254 472.6 Q263.8 472.6 263.8 482.4Z" fill="#f3e9fb" stroke="#8a52a6" stroke-width="1.65" stroke-linejoin="round"/>
<path d="M233.6 480.4 L229 482.2 Q228.3 483.8 229 485.4 L233.6 487.2Z" fill="#9a6db5"/>
</g>
<circle cx="414.1" cy="472" r="15.6" fill="#4eb184"/>
<path d="M398.5 472 H429.7 M401 463.8 H427.2 M401 480.2 H427.2 M414.1 456.4 V487.6" stroke="#b9efcf" stroke-width="0.8" fill="none"/>
<ellipse cx="414.1" cy="472" rx="7" ry="15.6" fill="none" stroke="#b9efcf" stroke-width="0.8"/>
<ellipse cx="414.1" cy="472" rx="12.3" ry="15.6" fill="none" stroke="#b9efcf" stroke-width="0.7" opacity="0.8"/>
<rect x="408.2" y="466.3" width="24.6" height="8.4" rx="0.8" fill="#fff" stroke="#333" stroke-width="0.9"/>
<text x="410.6" y="472.6" font-size="6.5" font-weight="bold" fill="#222" textLength="12.8" lengthAdjust="spacingAndGlyphs">www.</text>
<path d="M426.6 473.2 L432.2 475.4 L430 476.6 L431.4 479.4 L430 480.1 L428.6 477.4 L426.8 478.8Z" fill="#fff" stroke="#333" stroke-width="0.6" stroke-linejoin="round"/>
<path d="M440.6 489.9 Q441.4 493 443.8 495.4 Q446.2 498 445.6 501.9 L443.4 501.9 Q443.8 499 441.2 496.6 Q438.6 499 439 501.9 L436.6 501.9 Q435.6 498.4 438 495.2 Q440.4 492.4 440.6 489.9Z" fill="#f2672e"/>
<path d="M403.4 540.3 V566.7 A13.0 3.9 0 0 0 429.4 566.7 V540.3Z" fill="#ffffff" stroke="#222" stroke-width="1.0"/>
<path d="M403.4 549.1 A13.0 3.9 0 0 0 429.4 549.1" fill="none" stroke="#222" stroke-width="1.0"/>
<path d="M403.4 557.9 A13.0 3.9 0 0 0 429.4 557.9" fill="none" stroke="#222" stroke-width="1.0"/>
<path d="M406.8 547.3 h1.8 m1.6 0.25 h1.8" stroke="#555" stroke-width="0.8" stroke-linecap="round"/>
<path d="M406.8 556.1 h1.8 m1.6 0.25 h1.8" stroke="#555" stroke-width="0.8" stroke-linecap="round"/>
<path d="M406.8 564.9 h1.8 m1.6 0.25 h1.8" stroke="#555" stroke-width="0.8" stroke-linecap="round"/>
<ellipse cx="416.4" cy="540.3" rx="13.0" ry="3.9" fill="#ffffff" stroke="#222" stroke-width="1.0"/>
<ellipse cx="416.4" cy="540.5" rx="11.4" ry="2.8" fill="#f3a93a"/>
<path d="M405.4 541.2 A11.4 2.8 0 0 0 427.4 541.2 A11.4 1.8 0 0 1 405.4 541.2" fill="#fbd9a0" opacity="0.9"/>
<rect x="398.9" y="614.1" width="34.6" height="34.3" rx="6.5" fill="#060606"/>
<circle cx="416.3" cy="631.8" r="9.2" fill="#fff"/>
<ellipse cx="416.2" cy="630.9" rx="5.6" ry="4.4" fill="#060606"/>
<path d="M411 629 L411.3 625.2 L414.4 627.2Z M421.4 629 L421.1 625.2 L418 627.2Z" fill="#060606" stroke="#060606" stroke-width="0.5" stroke-linejoin="round"/>
<rect x="414.1" y="633" width="4.4" height="9" fill="#060606"/>
<path d="M410.2 635.3 Q411.6 638.2 414.4 637.6" fill="none" stroke="#060606" stroke-width="1.1" stroke-linecap="round"/>
<path d="M404.6 622.6 Q402.4 622.6 402.6 625 L402.8 629 Q402.8 631 401.2 631.4 Q402.8 631.8 402.8 633.8 L402.6 638 Q402.4 640.4 404.6 640.4" fill="none" stroke="#fff" stroke-width="0.9" stroke-linecap="round"/>
<path d="M427.4 622.6 Q429.6 622.6 429.4 625 L429.2 629 Q429.2 631 430.8 631.4 Q429.2 631.8 429.2 633.8 L429.4 638 Q429.6 640.4 427.4 640.4" fill="none" stroke="#fff" stroke-width="0.9" stroke-linecap="round"/>
<rect x="584.6" y="443.7" width="88" height="88.6" rx="6" fill="#4f96dd"/>
<path d="M640 443.7 H666.6 Q672.6 443.7 672.6 449.7 V470 H664 Q652 462 640 443.7Z" fill="#4087d2" opacity="0.55"/>
<circle cx="597.2" cy="450.4" r="3" fill="#e8453c"/><circle cx="607.6" cy="450.4" r="3" fill="#f4c20d"/><circle cx="617.4" cy="450.4" r="3" fill="#3cba54"/>
<rect x="593.8" y="459.8" width="69.4" height="8" rx="4" fill="#f4f8fc"/>
<text x="597.5" y="466.3" font-size="7" font-weight="bold" fill="#333" textLength="17.0" lengthAdjust="spacingAndGlyphs">www.</text>
<rect x="590.3" y="472" width="76.8" height="55.4" rx="1.5" fill="#f7fafd"/>
<rect x="593.8" y="475.1" width="69.8" height="9.6" fill="#4f96dd"/>
<rect x="615.4" y="476.8" width="6.6" height="6.2" rx="1" fill="#fff"/>
<rect x="625.6" y="476.8" width="6.6" height="6.2" rx="1" fill="#fff"/>
<rect x="635.5" y="476.8" width="6.6" height="6.2" rx="1" fill="#fff"/>
<rect x="593.8" y="488.2" width="36.6" height="35.7" rx="1.5" fill="#5aa0e2"/>
<path d="M593.8 520 Q625 518 630.4 494 V522.4 Q630.4 523.9 628.9 523.9 H595.3 Q593.8 523.9 593.8 522.4Z" fill="#3f86d1"/>
<rect x="633.4" y="489.5" width="30.2" height="1.9" fill="#222"/>
<rect x="633.4" y="493.7" width="8.0" height="1.9" fill="#222"/>
<rect x="648.9" y="493.7" width="14.7" height="1.9" fill="#222"/>
<rect x="633.4" y="497.9" width="22.0" height="1.9" fill="#222"/>
<rect x="660.9" y="497.9" width="2.7" height="1.9" fill="#222"/>
<rect x="633.4" y="502.0" width="3.5" height="1.9" fill="#222"/>
<rect x="641.9" y="502.0" width="21.7" height="1.9" fill="#222"/>
<rect x="633.4" y="506.2" width="30.2" height="1.9" fill="#222"/>
<rect x="633.4" y="510.4" width="15.5" height="1.9" fill="#222"/>
<rect x="657.4" y="510.4" width="6.2" height="1.9" fill="#222"/>
<rect x="633.4" y="514.6" width="30.2" height="1.9" fill="#222"/>
<rect x="633.4" y="518.8" width="6.0" height="1.9" fill="#222"/>
<rect x="642.4" y="518.8" width="21.2" height="1.9" fill="#222"/>
<rect x="633.4" y="522.9" width="17.0" height="1.9" fill="#222"/>
<rect x="655.4" y="522.9" width="8.2" height="1.9" fill="#222"/>
<rect x="593.8" y="583.1" width="72.7" height="72" rx="6" fill="#232342"/>
<path d="M593.8 593.6 V589.1 Q593.8 583.1 599.8 583.1 H660.5 Q666.5 583.1 666.5 589.1 V593.6Z" fill="#2e2e52"/>
<circle cx="601.2" cy="588.7" r="2" fill="#e5534b"/><circle cx="608.1" cy="588.7" r="2" fill="#f0b93a"/><circle cx="615.4" cy="588.7" r="2" fill="#3cb55a"/>
<rect x="629" y="587.4" width="24.5" height="2.6" rx="1.3" fill="#1a1a33"/>
<circle cx="605.5" cy="603.1" r="1.5" fill="#e0565b"/>
<rect x="609.9" y="601.7" width="9.6" height="2.8" rx="1.4" fill="#3f7be0"/>
<rect x="621.7" y="601.7" width="16.0" height="2.8" rx="1.4" fill="#ffffff"/>
<rect x="639.9" y="601.7" width="13.1" height="2.8" rx="1.4" fill="#e0565b"/>
<circle cx="605.5" cy="608.4" r="1.5" fill="#f0b93a"/>
<rect x="610.7" y="607.0" width="16.2" height="2.8" rx="1.4" fill="#e0565b"/>
<rect x="629.9" y="607.0" width="8.7" height="2.8" rx="1.4" fill="#3f7be0"/>
<circle cx="602.9" cy="613.9" r="1.5" fill="#e0565b"/>
<rect x="607.8" y="612.5" width="33.8" height="2.8" rx="1.4" fill="#f0b93a"/>
<rect x="644.7" y="612.5" width="12.6" height="2.8" rx="1.4" fill="#ffffff"/>
<circle cx="605.5" cy="619.3" r="1.5" fill="#e0565b"/>
<rect x="609.9" y="617.9" width="9.6" height="2.8" rx="1.4" fill="#3f7be0"/>
<rect x="621.7" y="617.9" width="16.0" height="2.8" rx="1.4" fill="#ffffff"/>
<rect x="639.9" y="617.9" width="4.9" height="2.8" rx="1.4" fill="#e0565b"/>
<circle cx="605.5" cy="624.6" r="1.5" fill="#f0b93a"/>
<rect x="610.7" y="623.2" width="16.2" height="2.8" rx="1.4" fill="#e0565b"/>
<rect x="630.4" y="623.2" width="3.8" height="2.8" rx="1.4" fill="#3f7be0"/>
<circle cx="602.9" cy="630.1" r="1.5" fill="#e0565b"/>
<rect x="607.8" y="628.7" width="23.4" height="2.8" rx="1.4" fill="#f0b93a"/>
<polygon points="648.9,623.2 649.7,618.5 656.1,618.5 656.9,623.2 661.9,625.2 665.7,622.5 670.3,627.1 667.6,630.9 669.6,635.9 674.3,636.7 674.3,643.1 669.6,643.9 667.6,648.9 670.3,652.7 665.7,657.3 661.9,654.6 656.9,656.6 656.1,661.3 649.7,661.3 648.9,656.6 643.9,654.6 640.1,657.3 635.5,652.7 638.2,648.9 636.2,643.9 631.5,643.1 631.5,636.7 636.2,635.9 638.2,630.9 635.5,627.1 640.1,622.5 643.9,625.2" fill="#cbd5e0" stroke="#cbd5e0" stroke-width="2.4" stroke-linejoin="round"/>
<circle cx="652.9" cy="639.9" r="14" fill="#3b6fe0"/>
<g transform="translate(652.9 639.9) scale(0.96)" fill="#fff">
<path d="M-0.6 -8.6 Q-4.2 -8.6 -4.2 -6 V-4.2 H0.4 V-3.4 H-5.8 Q-8.6 -3.4 -8.6 0 Q-8.6 3.4 -5.8 3.4 H-4.4 V1.2 Q-4.4 -0.9 -2.2 -0.9 H2.2 Q4.2 -0.9 4.2 -2.9 V-6 Q4.2 -8.6 0.6 -8.6Z"/>
<path d="M0.6 8.6 Q4.2 8.6 4.2 6 V4.2 H-0.4 V3.4 H5.8 Q8.6 3.4 8.6 0 Q8.6 -3.4 5.8 -3.4 H4.4 V-1.2 Q4.4 0.9 2.2 0.9 H-2.2 Q-4.2 0.9 -4.2 2.9 V6 Q-4.2 8.6 -0.6 8.6Z" opacity="0.9"/>
<circle cx="-2.3" cy="-6.3" r="0.85" fill="#3b6fe0"/><circle cx="2.3" cy="6.3" r="0.85" fill="#3b6fe0"/>
</g>
<rect x="19.6" y="703.5" width="10.4" height="8.1" rx="0" fill="#f6f9f9" stroke="none" stroke-width="0" />
<path d="M14.3 692 Q14.3 681 30 680.7 V704 H25 Q14.3 703.5 14.3 692Z" fill="#8a9e9a"/>
<path d="M20.5 705.5 Q24.5 710 29.5 711" fill="none" stroke="#3a3b3d" stroke-width="2"/>
<rect x="29.3" y="680.7" width="19.6" height="15.0" rx="0" fill="#2e3332" stroke="none" stroke-width="0" />
<rect x="29.3" y="695.7" width="19.6" height="15.9" rx="0" fill="#3a3a3d" stroke="none" stroke-width="0" />
<path d="M48.9 682.8 L91.2 686 V695.7 H48.9Z" fill="#93a5a1"/>
<rect x="48.9" y="695.7" width="42.3" height="16.7" rx="0" fill="#a9aaab" stroke="none" stroke-width="0" />
<path d="M91.2 686 L96 686.6 Q97.4 690 97.4 695.7 H91.2Z" fill="#a9c2be"/>
<path d="M91.2 695.7 H97.4 V708 Q97.4 712.4 93 712.4 H91.2Z" fill="#e4eceb"/>
</svg>
</body></html>
